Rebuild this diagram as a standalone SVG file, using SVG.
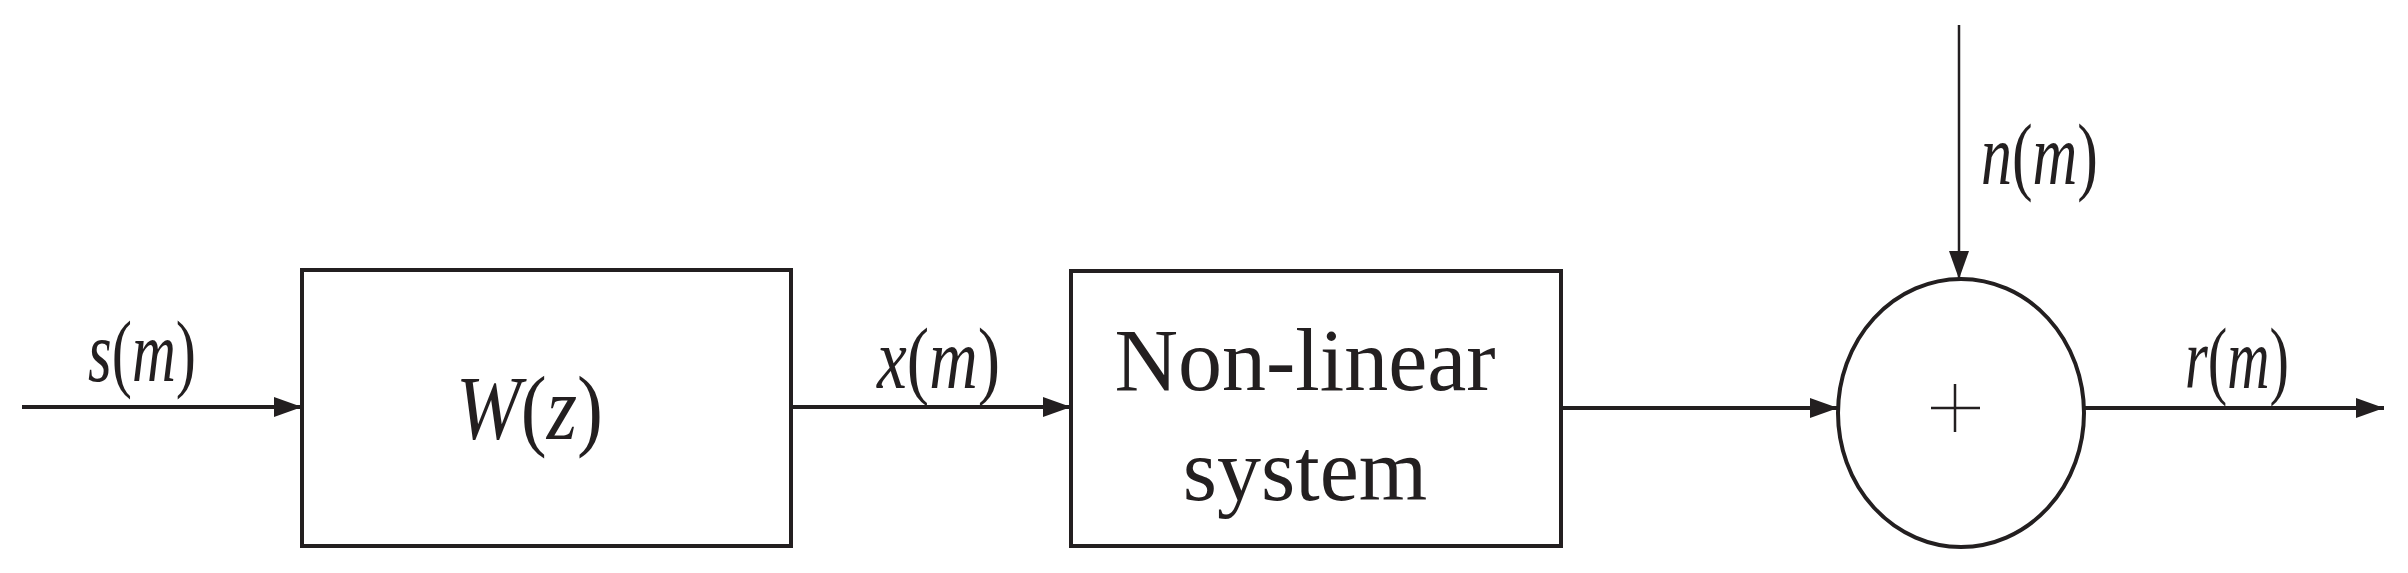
<svg xmlns="http://www.w3.org/2000/svg" width="2408" height="573" viewBox="0 0 2408 573">
<style>
.box{fill:#fff;stroke:#231f20;stroke-width:4}
.ln{stroke:#231f20;stroke-width:4;fill:none}
.thin{stroke:#231f20;stroke-width:2.5;fill:none}
.t{font-family:"Liberation Serif",serif;fill:#231f20}
.i{font-style:italic}
</style>
<defs>
<marker id="ah" markerUnits="userSpaceOnUse" markerWidth="30" markerHeight="20" refX="28" refY="10" orient="auto"><path d="M0,0 L28,10 L0,20 Z" fill="#231f20"/></marker>
</defs>
<rect width="2408" height="573" fill="#fff"/>
<g id="connectors">
<line class="ln" x1="22" y1="407" x2="302" y2="407" marker-end="url(#ah)"/>
<line class="ln" x1="791" y1="407" x2="1071" y2="407" marker-end="url(#ah)"/>
<line class="ln" x1="1561" y1="408" x2="1838" y2="408" marker-end="url(#ah)"/>
<line class="thin" x1="1959" y1="25" x2="1959" y2="279" marker-end="url(#ah)"/>
<line class="ln" x1="2085" y1="408" x2="2384" y2="408" marker-end="url(#ah)"/>
<text class="t" x="88" y="381" font-size="86" textLength="108" lengthAdjust="spacingAndGlyphs"><tspan class="i">s</tspan>(<tspan class="i">m</tspan>)</text>
<text class="t" x="877" y="388" font-size="86" textLength="123" lengthAdjust="spacingAndGlyphs"><tspan class="i">x</tspan>(<tspan class="i">m</tspan>)</text>
<text class="t" x="1981" y="184" font-size="86" textLength="117" lengthAdjust="spacingAndGlyphs"><tspan class="i">n</tspan>(<tspan class="i">m</tspan>)</text>
<text class="t" x="2185" y="388" font-size="86" textLength="104" lengthAdjust="spacingAndGlyphs"><tspan class="i">r</tspan>(<tspan class="i">m</tspan>)</text>
</g>
<g id="W">
<rect class="box" x="302" y="270" width="489" height="276"/>
<text class="t" x="456" y="439" font-size="92" textLength="147" lengthAdjust="spacingAndGlyphs"><tspan class="i">W</tspan>(<tspan class="i">z</tspan>)</text>
</g>
<g id="NL">
<rect class="box" x="1071" y="271" width="490" height="275"/>
<text class="t" x="1305" y="390" font-size="88" text-anchor="middle">Non-linear</text>
<text class="t" x="1305" y="500" font-size="88" text-anchor="middle">system</text>
</g>
<g id="sum">
<ellipse class="box" cx="1961" cy="413" rx="123" ry="134"/>
<line class="thin" x1="1931" y1="408" x2="1980" y2="408"/>
<line class="thin" x1="1955" y1="384" x2="1955" y2="432"/>
</g>
</svg>
